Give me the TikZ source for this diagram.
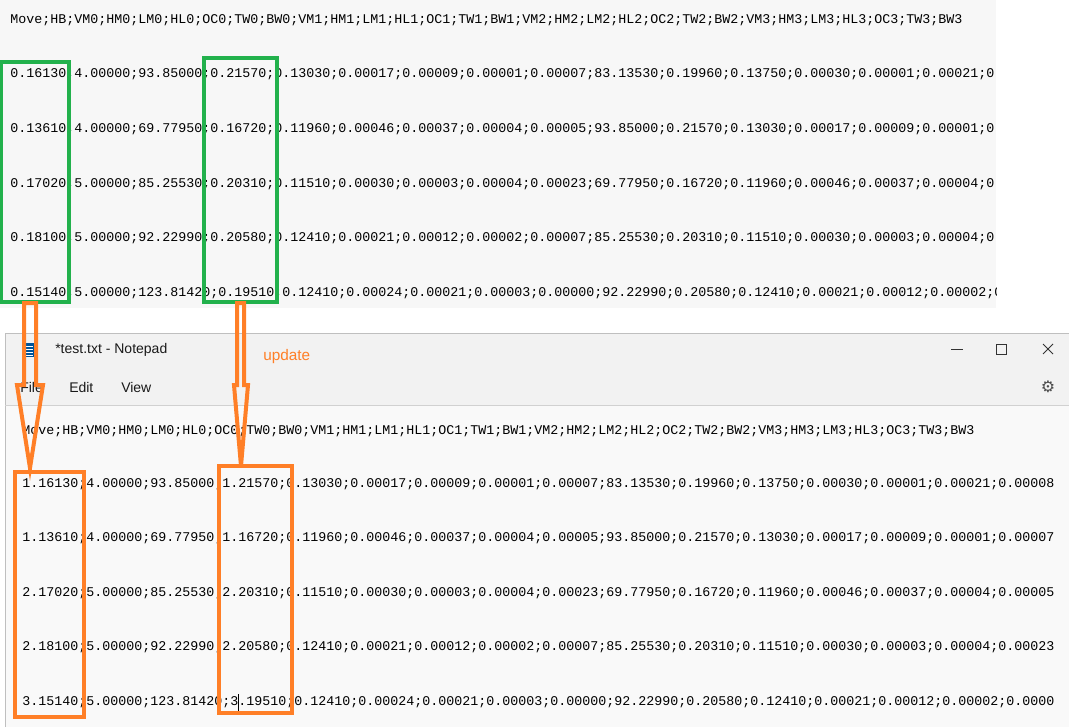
\documentclass[tikz,border=0pt]{standalone}
\usepackage{fontspec}
\setmainfont{Liberation Sans}
\newfontfamily\monof{Liberation Mono}
\begin{document}
\begin{tikzpicture}[x=0.75pt,y=-0.75pt,
  mono/.style={anchor=west,inner sep=0pt,font=\monof\fontsize{10}{12}\selectfont,text=black},
  gbox/.style={draw={rgb,255:red,34;green,177;blue,76},line width=3pt},
  obox/.style={draw={rgb,255:red,255;green,127;blue,39},line width=3pt},
  oarrow/.style={draw={rgb,255:red,255;green,127;blue,39},line width=3pt,line join=miter},
  ui/.style={anchor=west,inner sep=0pt,font=\fontsize{10.5}{12}\selectfont,text=black!90}]
\useasboundingbox (0,0) rectangle (1069,727);
\fill[white] (0,0) rectangle (1069,727);
% top panel
\fill[black!3] (0,0) rectangle (996,308);
\begin{scope}
\clip (0,0) rectangle (996,308);
\node[mono] (th) at (10,20) {Move;HB;VM0;HM0;LM0;HL0;OC0;TW0;BW0;VM1;HM1;LM1;HL1;OC1;TW1;BW1;VM2;HM2;LM2;HL2;OC2;TW2;BW2;VM3;HM3;LM3;HL3;OC3;TW3;BW3};
\node[mono] (t1) at (10,74) {0.16130;4.00000;93.85000;0.21570;0.13030;0.00017;0.00009;0.00001;0.00007;83.13530;0.19960;0.13750;0.00030;0.00001;0.00021;0.00008};
\node[mono] (t2) at (10,129) {0.13610;4.00000;69.77950;0.16720;0.11960;0.00046;0.00037;0.00004;0.00005;93.85000;0.21570;0.13030;0.00017;0.00009;0.00001;0.00007};
\node[mono] (t3) at (10,184) {0.17020;5.00000;85.25530;0.20310;0.11510;0.00030;0.00003;0.00004;0.00023;69.77950;0.16720;0.11960;0.00046;0.00037;0.00004;0.00005};
\node[mono] (t4) at (10,238) {0.18100;5.00000;92.22990;0.20580;0.12410;0.00021;0.00012;0.00002;0.00007;85.25530;0.20310;0.11510;0.00030;0.00003;0.00004;0.00023};
\node[mono] (t5) at (10,293) {0.15140;5.00000;123.81420;0.19510;0.12410;0.00024;0.00021;0.00003;0.00000;92.22990;0.20580;0.12410;0.00021;0.00012;0.00002;0.0000};
\end{scope}
% notepad window
\fill[black!5] (5,333) rectangle (1069,405);
\fill[black!2.5] (5,405) rectangle (1069,727);
\draw[black!25,line width=0.75pt] (5,727) -- (5,333) -- (1069,333);
\draw[black!18,line width=0.75pt] (5,405) -- (1069,405);
% icon
\fill[blue!45!cyan!60!black] (23,343) rectangle (34,357);
\foreach \yy in {346,349,352,355} \draw[white,line width=0.5pt] (24,\yy) -- (33,\yy);
\node[ui] (title) at (55,350) {*test.txt - Notepad};
\node[anchor=west,inner sep=0pt,font=\fontsize{11.5}{13}\selectfont,text={rgb,255:red,255;green,127;blue,39}] (upd) at (263,357) {update};
\node[ui] (mfile) at (20,387) {File};
\node[ui] (medit) at (69,387) {Edit};
\node[ui] (mview) at (121,387) {View};
\draw[black!80,line width=0.6pt] (951,349) -- (963,349);
\draw[black!80,line width=0.6pt] (996,344) rectangle (1006,354);
\draw[black!80,line width=0.6pt] (1043,344) -- (1053,354) (1043,354) -- (1053,344);
\node[inner sep=0pt,font=\fontsize{12}{12}\selectfont,text=black!70] (gear) at (1048,387) {\fontspec{DejaVu Sans}⚙};
\begin{scope}
\clip (5,405) rectangle (1069,727);
\node[mono] (bh) at (22,431) {Move;HB;VM0;HM0;LM0;HL0;OC0;TW0;BW0;VM1;HM1;LM1;HL1;OC1;TW1;BW1;VM2;HM2;LM2;HL2;OC2;TW2;BW2;VM3;HM3;LM3;HL3;OC3;TW3;BW3};
\node[mono] (b1) at (22,484) {1.16130;4.00000;93.85000;1.21570;0.13030;0.00017;0.00009;0.00001;0.00007;83.13530;0.19960;0.13750;0.00030;0.00001;0.00021;0.00008};
\node[mono] (b2) at (22,538) {1.13610;4.00000;69.77950;1.16720;0.11960;0.00046;0.00037;0.00004;0.00005;93.85000;0.21570;0.13030;0.00017;0.00009;0.00001;0.00007};
\node[mono] (b3) at (22,593) {2.17020;5.00000;85.25530;2.20310;0.11510;0.00030;0.00003;0.00004;0.00023;69.77950;0.16720;0.11960;0.00046;0.00037;0.00004;0.00005};
\node[mono] (b4) at (22,647) {2.18100;5.00000;92.22990;2.20580;0.12410;0.00021;0.00012;0.00002;0.00007;85.25530;0.20310;0.11510;0.00030;0.00003;0.00004;0.00023};
\node[mono] (b5) at (22,702) {3.15140;5.00000;123.81420;3.19510;0.12410;0.00024;0.00021;0.00003;0.00000;92.22990;0.20580;0.12410;0.00021;0.00012;0.00002;0.0000};
\end{scope}
\draw[black,line width=0.6pt] (238,694) -- (238,711);
% boxes
\draw[gbox] (1,62) rectangle (69,302);
\draw[gbox] (204,58) rectangle (277,302);
\draw[obox] (15,472) rectangle (84,717);
\draw[obox] (219,466) rectangle (292,713);
% hollow arrows
\draw[oarrow] (24,303) -- (24,385) -- (17,385) -- (30,468) -- (43,385) -- (36,385) -- (36,303) -- cycle;
\draw[oarrow] (237,303) -- (237,385) -- (234,385) -- (241,466) -- (248,385) -- (244,385) -- (244,303) -- cycle;
\end{tikzpicture}
\end{document}
